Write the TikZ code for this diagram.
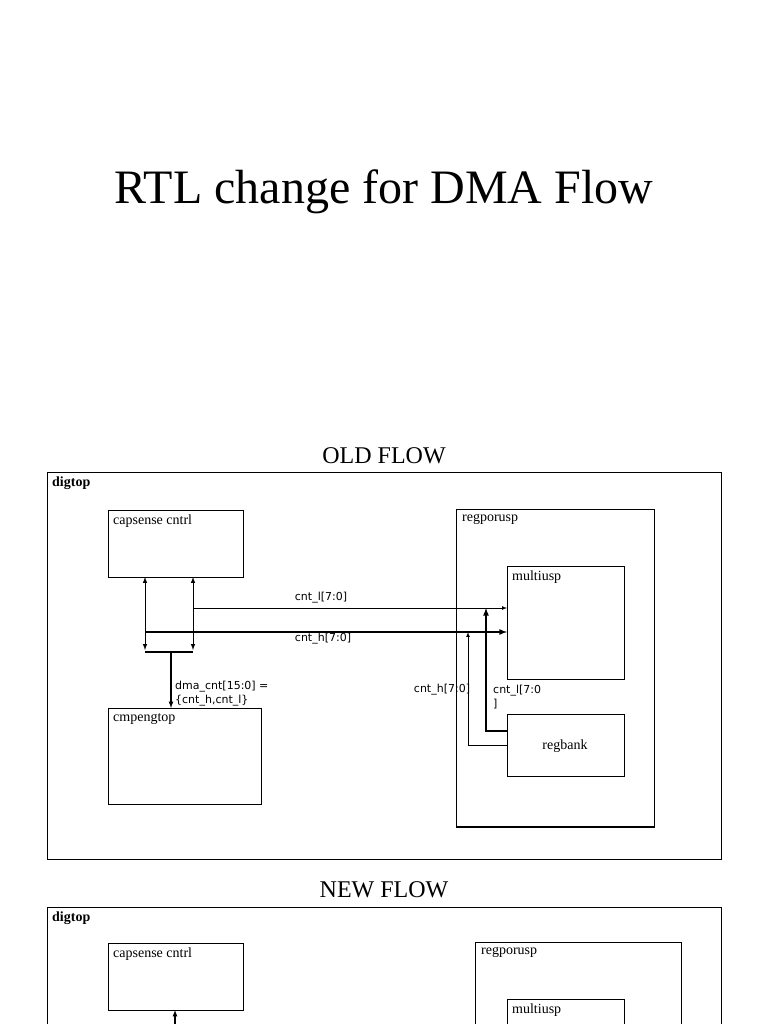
\documentclass[tikz,border=0pt]{standalone}
\usepackage{fontspec}
\setmainfont{Liberation Serif}
\newfontfamily\labelfont{DejaVu Sans}
\begin{document}
\begin{tikzpicture}[x=1pt,y=-1pt,>=latex,
  blk/.style={draw,line width=0.8pt},
  lbl/.style={anchor=north west,inner sep=0pt,font=\fontsize{14}{16}\selectfont},
  sig/.style={inner sep=1pt,font=\labelfont\fontsize{11}{12}\selectfont},
  bus/.style={line width=1.6pt}]
        \useasboundingbox (0,0) rectangle (768,1024);
        \clip (0,0) rectangle (768,1024);
        \node (title) at (384,192) {\fontsize{48}{56}\selectfont RTL change for DMA Flow};
        % old flow
        \node (oldt) at (384,456) {\fontsize{24}{28}\selectfont OLD FLOW};
        \draw[blk] (47,472) rectangle (721,859);
        \node[lbl] (dig1) at (52,477) {\textbf{digtop}};
        \draw[blk] (108,510) rectangle (243,577);
        \node[lbl] (cap1) at (113,515) {capsense cntrl};
        \draw[blk] (456,509) rectangle (654,827);
        \draw[bus] (456,827) -- (654,827);
        \node[lbl] (reg1) at (462,514) {regporusp};
        \draw[blk] (507,566) rectangle (624,679);
        \node[lbl] (mul1) at (512,571) {multiusp};
        \draw[blk] (507,714) rectangle (624,776);
        \node[font=\fontsize{14}{16}\selectfont] (rb1) at (565,746) {regbank};
        \draw[blk] (108,708) rectangle (261,804);
        \node[lbl] (cmp1) at (113,713) {cmpengtop};
        \coordinate (ca) at (145,577);
        \coordinate (cb) at (193,577);
        \coordinate (la) at (145,650);
        \coordinate (lb) at (193,650);
        \draw[<->,bus,line width=1pt] (la) -- (ca);
        \draw[<->,bus,line width=1pt] (lb) -- (cb);
        \draw[bus] (145,652) -- (193,652);
        \coordinate (dm) at (171,708);
        \draw[->,bus,line width=1.2pt] (171,652) -- (dm);
        \node[sig,anchor=north west] (dma) at (174,680) {\shortstack[l]{dma\_cnt[15:0] =\\\{cnt\_h,cnt\_l\}}};
        \coordinate (ml) at (507,608);
        \coordinate (mh) at (507,632);
        \draw[->,line width=0.7pt] (193,608) -- (ml);
        \draw[->,bus] (145,632) -- (mh);
        \node[sig] (cl) at (321,598) {cnt\_l[7:0]};
        \node[sig] (ch) at (323,639) {cnt\_h[7:0]};
        \draw[->,bus] (507,731) -| (486,608);
        \draw[->,line width=0.7pt] (507,745) -| (468,632);
        \node[sig] (ch2) at (442,690) {cnt\_h[7:0]};
        \node[sig,anchor=north west] (cl2) at (492,684) {\shortstack[l]{cnt\_l[7:0\\]}};
        % new flow
        \node (newt) at (384,890) {\fontsize{24}{28}\selectfont NEW FLOW};
        \draw[blk] (47,907) rectangle (721,1040);
        \node[lbl] (dig2) at (52,912) {\textbf{digtop}};
        \draw[blk] (108,943) rectangle (243,1010);
        \node[lbl] (cap2) at (113,948) {capsense cntrl};
        \draw[blk] (475,942) rectangle (681,1040);
        \node[lbl] (reg2) at (481,947) {regporusp};
        \draw[blk] (507,999) rectangle (624,1040);
        \node[lbl] (mul2) at (512,1004) {multiusp};
        \coordinate (c2) at (175,1010);
        \draw[->,bus,line width=1.2pt] (175,1030) -- (c2);
\end{tikzpicture}
\end{document}
